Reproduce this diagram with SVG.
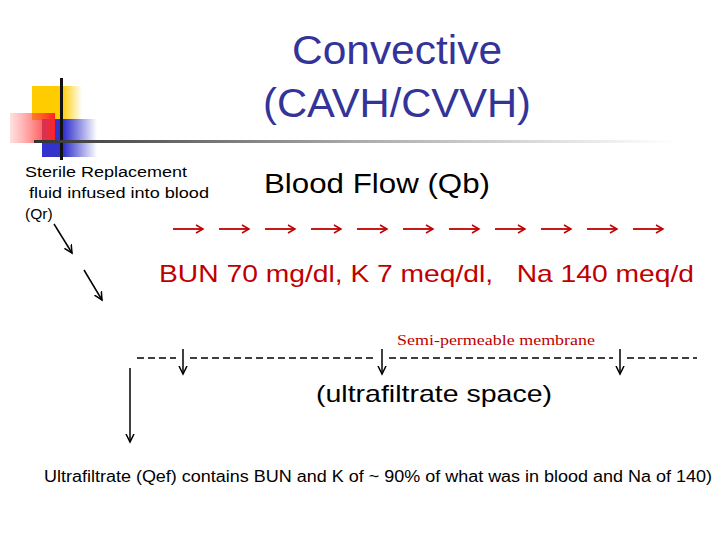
<svg xmlns="http://www.w3.org/2000/svg" width="720" height="540" viewBox="0 0 720 540">
<defs>
<linearGradient id="gl" x1="0" x2="1"><stop offset="0" stop-color="#333"/><stop offset="0.5" stop-color="#aaa"/><stop offset="1" stop-color="#fff"/></linearGradient>
<linearGradient id="gy" x1="0" x2="1"><stop offset="0.6" stop-color="#ffcc00"/><stop offset="1" stop-color="#ffcc00" stop-opacity="0"/></linearGradient>
<linearGradient id="gb" x1="0" x2="1"><stop offset="0.4" stop-color="#3333cc"/><stop offset="1" stop-color="#3333cc" stop-opacity="0"/></linearGradient>
<linearGradient id="gr" x1="1" x2="0"><stop offset="0" stop-color="#ff2222"/><stop offset="1" stop-color="#ff6666" stop-opacity="0.2"/></linearGradient>
<marker id="ah" markerWidth="10" markerHeight="10" refX="8" refY="5" orient="auto" markerUnits="userSpaceOnUse"><path d="M0,1 L8,5 L0,9" fill="none" stroke="#000" stroke-width="1.5"/></marker>
<marker id="rh" markerWidth="10" markerHeight="10" refX="8" refY="5" orient="auto" markerUnits="userSpaceOnUse"><path d="M1,1 L8,5 L1,9" fill="none" stroke="#c00000" stroke-width="1.5"/></marker>
<path id="ra" d="M0,0 H30" stroke="#c00000" stroke-width="1.8" marker-end="url(#rh)"/>
</defs>
<style>
.s{font-family:"Liberation Sans",Arial,sans-serif}
.r{fill:#c00000}
.ln{stroke:#000;stroke-width:1.5;fill:none}
text{}
</style>
<rect width="720" height="540" fill="#fff"/>
<g id="deco">
<rect x="32" y="86" width="50" height="34" fill="url(#gy)"/>
<rect x="42" y="119" width="55" height="38" fill="url(#gb)"/>
<rect x="10" y="113" width="45" height="30" fill="url(#gr)"/>
<rect x="60" y="78" width="3" height="82" fill="#111"/>
<rect x="34" y="140" width="640" height="3" fill="url(#gl)"/>
</g>
<g id="title"><text class="s" x="292" y="64" font-size="40" textLength="210" lengthAdjust="spacingAndGlyphs" fill="#333399">Convective</text>
<text class="s" x="263" y="117" font-size="40" textLength="268" lengthAdjust="spacingAndGlyphs" fill="#333399">(CAVH/CVVH)</text></g>
<g id="replacement" class="s" font-size="15.5"><text x="25" y="177" textLength="162" lengthAdjust="spacingAndGlyphs">Sterile Replacement</text><text x="29" y="198" textLength="180" lengthAdjust="spacingAndGlyphs">fluid infused into blood</text><text x="25" y="219">(Qr)</text></g>
<g id="bloodflow"><text class="s" x="264" y="193" font-size="28" textLength="226" lengthAdjust="spacingAndGlyphs">Blood Flow (Qb)</text>
<use href="#ra" x="173" y="229"/><use href="#ra" x="219" y="229"/><use href="#ra" x="265" y="229"/><use href="#ra" x="311" y="229"/><use href="#ra" x="357" y="229"/><use href="#ra" x="403" y="229"/><use href="#ra" x="449" y="229"/><use href="#ra" x="495" y="229"/><use href="#ra" x="541" y="229"/><use href="#ra" x="587" y="229"/><use href="#ra" x="633" y="229"/></g>
<g id="blood"><text class="s r" x="159" y="282" font-size="24" textLength="535" lengthAdjust="spacingAndGlyphs" xml:space="preserve">BUN 70 mg/dl, K 7 meq/dl,   Na 140 meq/d</text></g>
<g id="membrane"><text x="397" y="345" font-size="15" font-family="Liberation Serif,serif" class="r" textLength="198" lengthAdjust="spacingAndGlyphs">Semi-permeable membrane</text>
<path class="ln" d="M137,358 H176 M190,358 H375 M389,358 H613 M627,358 H697" stroke-dasharray="7,4" stroke-width="2"/>
<line class="ln" x1="183" y1="349" x2="183" y2="374" marker-end="url(#ah)"/>
<line class="ln" x1="382" y1="349" x2="382" y2="374" marker-end="url(#ah)"/>
<line class="ln" x1="620" y1="349" x2="620" y2="374" marker-end="url(#ah)"/></g>
<g id="space"><text class="s" x="316" y="402" font-size="24" textLength="236" lengthAdjust="spacingAndGlyphs">(ultrafiltrate space)</text></g>
<g id="ultra"><text class="s" x="44" y="482" font-size="16" textLength="668" lengthAdjust="spacingAndGlyphs">Ultrafiltrate (Qef) contains BUN and K of ~ 90% of what was in blood and Na of 140)</text></g>
<g id="connectors">
<line class="ln" x1="54" y1="224" x2="72" y2="253" marker-end="url(#ah)"/>
<line class="ln" x1="84" y1="270" x2="102" y2="300" marker-end="url(#ah)"/>
<line class="ln" x1="130" y1="368" x2="130" y2="442" marker-end="url(#ah)"/>
</g>
</svg>
